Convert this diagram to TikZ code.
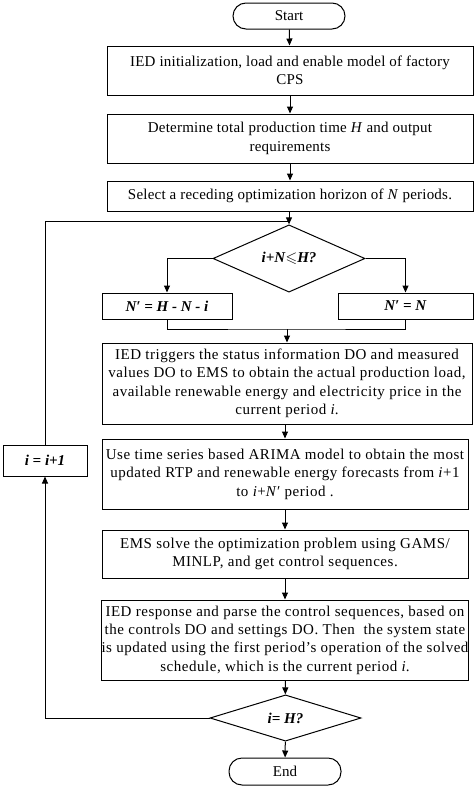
\documentclass[tikz,border=0pt]{standalone}
\usepackage{amssymb}
\usepackage{fontspec}
\setmainfont{Liberation Serif}
\newfontfamily\upperfont{Liberation Serif}[LetterSpace=1.5]
\newfontfamily\lowerfont{Liberation Serif}[LetterSpace=3.5]
\usetikzlibrary{shapes.geometric,arrows.meta}
\begin{document}
\begin{tikzpicture}[x=1pt,y=-1pt,
  every node/.style={font=\fontsize{15}{18.4}\selectfont, inner sep=0pt, line width=1pt},
  proc/.style={draw, rectangle, align=center},
  upr/.style={font=\upperfont\fontsize{15}{18.4}\selectfont},
  lwr/.style={font=\lowerfont\fontsize{15}{18.4}\selectfont},
  term/.style={draw, rectangle, rounded corners=13pt, minimum width=112pt, minimum height=26pt},
  decis/.style={draw, diamond, minimum width=152pt, minimum height=39pt},
  conn/.style={line width=1pt},
  arr/.style={conn, -{Triangle[length=7pt,width=6pt]}}]
\useasboundingbox (0,0) rectangle (474,787);
\node[term] (start) at (289,16) {Start};
\node[proc, upr, minimum width=366pt, minimum height=49pt] (b1) at (290,70.5)
  {IED initialization, load and enable model of factory\\CPS};
\node[proc, upr, minimum width=366pt, minimum height=49pt] (b2) at (290,138.5)
  {Determine total production time \textit{H} and output\\requirements};
\node[proc, upr, minimum width=366pt, minimum height=30pt] (b3) at (290,196)
  {Select a receding optimization horizon of \textit{N} periods.};
\node[decis] (d1) at (289,258.5) {\textbf{\textit{i+N}}$\leqslant$\textbf{\textit{H?}}};
\node[proc, minimum width=130pt, minimum height=26pt] (nL) at (167,306)
  {\textbf{\textit{N′ = H - N - i}}};
\node[proc, minimum width=135pt, minimum height=26pt] (nR) at (405.5,306)
  {\textbf{\textit{N′ = N}}};
\node[proc, lwr, minimum width=370pt, minimum height=81pt] (b4) at (287,383.5)
  {IED triggers the status information DO and measured\\values DO to EMS to obtain the actual production load,\\available renewable energy and electricity price in the\\current period \textit{i}.};
\node[proc, lwr, minimum width=366pt, minimum height=70pt] (b5) at (285,474)
  {Use time series based ARIMA model to obtain the most\\updated RTP and renewable energy forecasts from \textit{i}+1\\to \textit{i}+\textit{N}′ period .};
\node[proc, lwr, minimum width=366pt, minimum height=48pt] (b6) at (285,554)
  {EMS solve the optimization problem using GAMS/\\MINLP, and get control sequences.};
\node[proc, lwr, minimum width=366pt, minimum height=80pt] (b7) at (285,640)
  {IED response and parse the control sequences, based on\\the controls DO and settings DO. Then~ the system state\\is updated using the first period’s operation of the solved\\schedule, which is the current period \textit{i}.};
\node[decis, minimum width=151pt] (d2) at (285.5,718) {\textbf{\textit{i= H?}}};
\node[term, minimum height=27pt] (end) at (285,771.5) {End};
\node[proc, minimum width=84pt, minimum height=31pt] (inc) at (45,460.5)
  {\textbf{\textit{i = i+1}}};
\coordinate (m) at (287,329);
\coordinate (j) at (289,221);
\draw[arr] (start) -- (b1);
\draw[arr] (b1) -- (b2);
\draw[arr] (b2) -- (b3);
\draw[arr] (b3.south -| d1) -- (d1);
\draw[arr] (d1.west) -| (nL.north);
\draw[arr] (d1.east) -| (nR.north);
\draw[conn] (nL.south) |- (m) -| (nR.south);
\draw[arr] (m) -- (b4.north -| m);
\draw[arr] (b4.south -| b5) -- (b5);
\draw[arr] (b5) -- (b6);
\draw[arr] (b6) -- (b7);
\draw[arr] (b7) -- (d2);
\draw[arr] (d2) -- (end);
\draw[arr] (d2.west) -| (inc.south);
\draw[conn] (inc.north) |- (j);
\end{tikzpicture}
\end{document}
